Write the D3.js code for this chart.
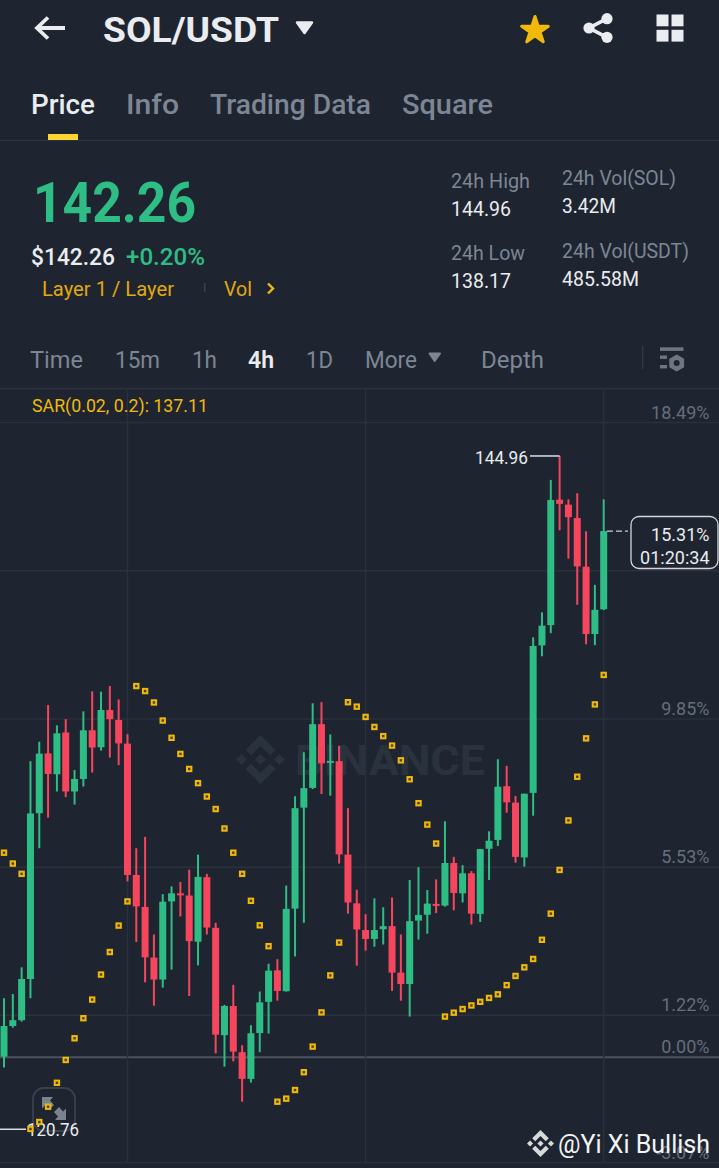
<!DOCTYPE html>
<html>
<head>
<meta charset="utf-8">
<script src="https://cdn.jsdelivr.net/npm/d3@7"></script>
<style>
  html, body { margin: 0; background: #1e2530; }
  svg { display: block; }
  text { font-family: Roboto, sans-serif; }
</style>
</head>
<body>
<div id="chart"></div>
<script>
// Candles, oldest first (4h, SOL/USDT)
const opens = [123.37,124.47,124.68,126.16,132.12,134.27,133.52,135.02,132.90,133.35,135.10,134.49,135.83,135.47,134.62,129.90,128.75,126.93,126.14,128.95,129.24,129.16,127.50,129.82,128.00,124.14,125.19,123.53,122.57,124.22,125.34,126.47,125.72,128.69,132.32,133.03,135.32,133.93,133.99,130.63,128.88,127.92,127.60,127.95,128.06,126.39,125.98,128.26,128.47,128.86,128.80,130.33,129.24,129.96,128.50,130.84,131.16,133.09,132.50,130.53,132.85,138.15,138.88,143.39,143.21,142.73,140.98,138.56,139.45];
const highs = [125.47,125.62,126.58,133.99,134.69,136.01,135.28,135.50,133.67,135.78,136.50,136.49,136.69,136.21,134.96,130.86,131.27,127.76,129.21,129.49,129.65,130.09,130.63,129.94,128.18,125.23,125.95,123.78,124.50,125.71,126.71,126.87,129.52,132.73,134.31,136.07,136.11,134.95,134.54,132.30,129.37,128.49,129.06,128.74,129.09,127.76,129.72,130.18,129.36,129.74,131.83,130.55,130.25,130.04,130.83,131.47,134.06,133.82,132.74,132.82,138.44,139.34,144.10,144.96,143.40,143.62,142.25,140.33,143.40];
const lows = [122.98,124.41,124.63,125.47,130.86,131.96,132.90,132.70,132.43,133.08,133.58,134.37,134.12,133.85,129.67,127.49,126.04,125.20,125.85,126.50,128.41,125.55,126.65,127.76,123.49,123.01,123.20,121.75,122.44,123.53,124.20,125.38,125.71,126.97,128.18,132.99,132.81,132.75,130.31,128.51,126.64,127.18,127.32,127.40,125.73,125.38,124.81,127.58,127.79,128.53,128.76,128.63,128.91,128.12,128.21,129.72,130.94,132.14,130.34,130.20,132.03,137.76,138.59,142.29,141.27,139.61,138.19,138.16,139.42];
const closes = [124.47,124.68,126.16,132.11,134.26,133.53,134.99,132.90,133.35,135.10,134.48,135.83,135.50,134.63,129.90,128.77,126.94,126.14,128.94,129.24,129.18,127.52,129.83,128.01,124.16,125.19,123.55,122.57,124.21,125.32,126.46,125.73,128.68,132.30,133.02,135.32,133.91,134.00,130.64,128.91,127.94,127.60,127.92,128.06,126.39,125.98,128.24,128.46,128.87,128.81,130.33,129.25,129.96,128.51,130.83,131.13,133.07,132.51,130.55,132.82,138.13,138.86,143.38,143.24,142.76,140.99,138.56,139.43,142.26];

// Parabolic SAR, one value per candle
const sarValues = [130.70,130.31,129.94,120.77,121.02,121.57,122.43,123.25,124.03,124.75,125.42,126.32,127.13,128.08,128.95,136.69,136.51,136.10,135.45,134.83,134.25,133.71,133.20,132.72,132.27,131.57,130.70,129.94,128.97,128.09,127.34,121.75,121.86,122.17,122.81,123.73,124.96,126.29,127.47,136.11,135.95,135.58,135.22,134.89,134.55,134.02,133.34,132.48,131.71,131.03,124.81,124.95,125.08,125.21,125.34,125.48,125.61,125.94,126.27,126.58,126.88,127.57,128.51,130.08,131.86,133.43,134.81,136.03,137.09];

const basePrice = 123.37;
const lowPrice = 120.76;
const percentTicks = [18.49, 14.17, 9.85, 5.53, 1.22, 0, -3.07];
const verticalGridIndex = [14, 41, 68];
const periodTabs = ['Time', '15m', '1h', '4h', '1D', 'More', 'Depth'];
const topTabs = ['Price', 'Info', 'Trading Data', 'Square'];

const width = 719, height = 1168;
const bg = '#1e2530', grid = '#2a313c', white = '#eaecef', grey = '#7d8694', axisGrey = '#666e7b';
const green = '#2ebd85', red = '#f6465d', yellow = '#f0b90b';

const svg = d3.select('#chart').append('svg')
  .attr('width', width)
  .attr('height', height)
  .style('background', bg);

// text helper, w squeezes the glyphs to the width seen in the screenshot
function label(parent, str, x, y, size, color, w, weight) {
  const t = parent.append('text')
    .attr('x', x)
    .attr('y', y)
    .attr('font-size', size)
    .attr('fill', color)
    .attr('font-weight', weight || 400)
    .text(str);
  if (w) t.attr('textLength', w).attr('lengthAdjust', 'spacingAndGlyphs');
  return t;
}

const logoParts = [
  'M38.73 53.2l24.59-24.58 24.6 24.6 14.3-14.31L63.32 0 24.42 38.9z',
  'M0 63.31l14.3-14.31 14.31 14.31-14.31 14.3z',
  'M38.73 73.41L63.32 98l24.6-24.6 14.31 14.29-38.91 38.92L24.41 87.7z',
  'M98 63.31l14.3-14.31 14.31 14.3-14.31 14.32z',
  'M77.83 63.3L63.32 48.78 48.81 63.28l14.51 14.5z'
];
function binanceLogo(parent, x, y, size, color) {
  parent.append('g')
    .attr('transform', `translate(${x},${y}) scale(${size / 126.61})`)
    .selectAll('path').data(logoParts).join('path')
    .attr('d', d => d)
    .attr('fill', color);
}

/* Header */
const header = svg.append('g');
header.append('path')
  .attr('d', 'M65 28H38M48 17.5L37 28L48 38.5')
  .attr('fill', 'none').attr('stroke', white).attr('stroke-width', 3.8);
label(header, 'SOL/USDT', 103, 42, 35, white, 176, 700);
header.append('path')
  .attr('d', 'M297 22.5H312L304.5 33z')
  .attr('fill', white).attr('stroke', white).attr('stroke-width', 2.5).attr('stroke-linejoin', 'round');
header.append('path')
  .attr('d', d3.symbol(d3.symbolStar, 220))
  .attr('transform', 'translate(535,30.5)')
  .attr('fill', yellow).attr('stroke', yellow).attr('stroke-width', 3).attr('stroke-linejoin', 'round');
header.append('path')
  .attr('d', 'M607 18.7L589 28L607 37.3')
  .attr('fill', 'none').attr('stroke', white).attr('stroke-width', 3.6);
[[589, 28], [607, 18.7], [607, 37.3]].forEach(c => {
  header.append('circle').attr('cx', c[0]).attr('cy', c[1]).attr('r', 5.6).attr('fill', white);
});
[[656.5, 14.5], [671.5, 14.5], [656.5, 29.8], [671.5, 29.8]].forEach(c => {
  header.append('rect').attr('x', c[0]).attr('y', c[1]).attr('width', 12).attr('height', 11.8).attr('fill', white);
});

// tabs
const topTabLayout = [[31, 64], [126, 53], [210, 161], [402, 91]];
topTabs.forEach((name, i) => {
  label(header, name, topTabLayout[i][0], 114, 28, i == 0 ? white : grey, topTabLayout[i][1], 500);
});
header.append('rect').attr('x', 48).attr('y', 134).attr('width', 30).attr('height', 6).attr('fill', '#fcd535');
header.append('line').attr('x1', 0).attr('x2', width).attr('y1', 140.5).attr('y2', 140.5).attr('stroke', '#2d343f');

// price block
label(header, '142.26', 33, 222, 56, green, 163, 700);
label(header, '$142.26', 31, 265, 24, white, 84, 500);
label(header, '+0.20%', 126, 265, 24, green, 79, 500);
label(header, 'Layer 1 / Layer', 42, 296, 21, '#e0a90e', 132);
header.append('rect').attr('x', 204).attr('y', 283).attr('width', 1.5).attr('height', 9).attr('fill', '#3a414c');
label(header, 'Vol', 224, 296, 21, '#e0a90e', 28);
header.append('path')
  .attr('d', 'M268 283.5L273 288.5L268 293.5')
  .attr('fill', 'none').attr('stroke', yellow).attr('stroke-width', 2.4);

label(header, '24h High', 451, 188, 20, grey, 79);
label(header, '144.96', 451, 216, 20, white, 60);
label(header, '24h Vol(SOL)', 562, 185, 20, grey, 114);
label(header, '3.42M', 562, 213, 20, white, 54);
label(header, '24h Low', 451, 260, 20, grey, 74);
label(header, '138.17', 451, 288, 20, white, 60);
label(header, '24h Vol(USDT)', 562, 258, 20, grey, 127);
label(header, '485.58M', 562, 286, 20, white, 77);

// period selector
const periodLayout = [[30, 53], [115, 45], [192, 25], [248, 26], [306, 27], [365, 52], [481, 63]];
periodTabs.forEach((name, i) => {
  const active = name == '4h';
  label(header, name, periodLayout[i][0], 368, 24, active ? white : grey, periodLayout[i][1], active ? 600 : 400);
});
header.append('path')
  .attr('d', 'M429.5 353.5H440L434.7 361z')
  .attr('fill', grey).attr('stroke', grey).attr('stroke-width', 2).attr('stroke-linejoin', 'round');
header.append('line').attr('x1', 642.7).attr('x2', 642.7).attr('y1', 346).attr('y2', 369).attr('stroke', '#3a414c');
const settings = header.append('g').attr('fill', '#6e7683');
[[660, 347.3, 23.5, 3.6], [660, 355.5, 7, 3.4], [660, 365, 7, 3.4]].forEach(r => {
  settings.append('rect').attr('x', r[0]).attr('y', r[1]).attr('width', r[2]).attr('height', r[3]);
});
settings.append('path')
  .attr('d', 'M676.7 354.5l7.4 4.2v8.6l-7.4 4.2l-7.4-4.2v-8.6z');
settings.append('circle').attr('cx', 676.7).attr('cy', 363).attr('r', 3).attr('fill', bg);
header.append('line').attr('x1', 0).attr('x2', width).attr('y1', 388.5).attr('y2', 388.5).attr('stroke', grid).attr('stroke-width', 2);

/* Chart */
const pctToPrice = p => basePrice * (1 + p / 100);

const x = d3.scaleLinear([0, opens.length - 1], [4, 603.7]);
const y = d3.scaleLinear([pctToPrice(-3.07), pctToPrice(18.49)], [1162, 422]);

const chart = svg.append('g');

// grid
chart.append('g')
  .call(d3.axisLeft(y).tickValues(percentTicks.map(pctToPrice)).tickSize(-width).tickFormat(''))
  .call(g => g.select('.domain').remove())
  .selectAll('line')
  .attr('stroke', d => d == pctToPrice(0) ? '#4c525d' : grid)
  .attr('stroke-width', d => d == pctToPrice(0) ? 2 : 1.6);

chart.append('g')
  .selectAll('line')
  .data(verticalGridIndex)
  .join('line')
  .attr('x1', d => x(d))
  .attr('x2', d => x(d))
  .attr('y1', 390)
  .attr('y2', 1162)
  .attr('stroke', grid)
  .attr('stroke-width', 1.4);

// watermark
binanceLogo(chart, 236, 735, 49, '#2a323e');
label(chart, 'BINANCE', 295, 775, 42, '#2a323e', 190, 700);

// expand button
const expand = chart.append('g');
expand.append('rect')
  .attr('x', 33).attr('y', 1088).attr('width', 42).attr('height', 43).attr('rx', 11)
  .attr('fill', 'none').attr('stroke', '#3a414c').attr('stroke-width', 1.8);
expand.append('path').attr('d', 'M42 1097H53L50 1100.5L54 1105L49 1110L45 1105.5L42 1108.5z').attr('fill', '#7c8390');
expand.append('path').attr('d', 'M66 1120H55L58 1116.5L54 1112L59 1107L63 1111.5L66 1108.5z').attr('fill', '#7c8390');

// percentage labels
chart.append('g')
  .attr('transform', 'translate(709.5,0)')
  .call(d3.axisLeft(y)
    .tickValues(percentTicks.map(pctToPrice))
    .tickSize(0)
    .tickPadding(0)
    .tickFormat((d, i) => percentTicks[i].toFixed(2) + '%'))
  .call(g => g.select('.domain').remove())
  .selectAll('text')
  .attr('font-family', 'Roboto, sans-serif')
  .attr('font-size', 18)
  .attr('fill', axisGrey)
  .attr('dy', -4);

// candles
const candles = chart.append('g')
  .selectAll('g')
  .data(opens.map((o, i) => ({ i: i, o: o, h: highs[i], l: lows[i], c: closes[i] })))
  .join('g')
  .attr('fill', d => d.c >= d.o ? green : red);

candles.append('rect')
  .attr('x', d => x(d.i) - 1)
  .attr('width', 2)
  .attr('y', d => y(d.h))
  .attr('height', d => y(d.l) - y(d.h));

candles.append('rect')
  .attr('x', d => x(d.i) - 3.5)
  .attr('width', 7)
  .attr('y', d => y(Math.max(d.o, d.c)))
  .attr('height', d => Math.max(2, Math.abs(y(d.o) - y(d.c))));

label(chart, 'SAR(0.02, 0.2): 137.11', 32, 412, 18, yellow, 176);

// high and low markers, the low label sits under the SAR dots
const hiIndex = highs.indexOf(d3.max(highs));
chart.append('line')
  .attr('x1', 530).attr('x2', x(hiIndex))
  .attr('y1', y(d3.max(highs))).attr('y2', y(d3.max(highs)))
  .attr('stroke', white).attr('stroke-width', 1.4);
label(chart, d3.max(highs).toFixed(2), 475, 464, 18, white, 53);

chart.append('line')
  .attr('x1', 0).attr('x2', 26)
  .attr('y1', y(lowPrice)).attr('y2', y(lowPrice))
  .attr('stroke', white).attr('stroke-width', 1.4);
label(chart, lowPrice.toFixed(2), 27, 1136, 18, white, 52);

// SAR dots
chart.append('g')
  .selectAll('rect')
  .data(sarValues)
  .join('rect')
  .attr('x', (d, i) => x(i) - 2.2)
  .attr('y', d => y(d) - 2.2)
  .attr('width', 4.4)
  .attr('height', 4.4)
  .attr('fill', '#4a3f18')
  .attr('stroke', yellow)
  .attr('stroke-width', 2);

// last price callout
const lastY = y(closes[closes.length - 1]);
chart.append('line')
  .attr('x1', 607).attr('x2', 628)
  .attr('y1', lastY).attr('y2', lastY)
  .attr('stroke', '#c9ccd1').attr('stroke-width', 1.2).attr('stroke-dasharray', '6 3');
chart.append('rect')
  .attr('x', 631).attr('y', 516.5).attr('width', 87).attr('height', 52).attr('rx', 8)
  .attr('fill', bg).attr('fill-opacity', 0.93)
  .attr('stroke', '#d5d7db').attr('stroke-width', 1.3);
label(chart, '15.31%', 709.5, 541, 18, white).attr('text-anchor', 'end');
label(chart, '01:20:34', 709.5, 564, 18, white).attr('text-anchor', 'end');

/* Source watermark */
binanceLogo(svg, 527, 1130, 27, '#d8d9db');
label(svg, '@Yi Xi Bullish', 558, 1153, 26, '#f4f4f4', 152);
</script>
</body>
</html>
